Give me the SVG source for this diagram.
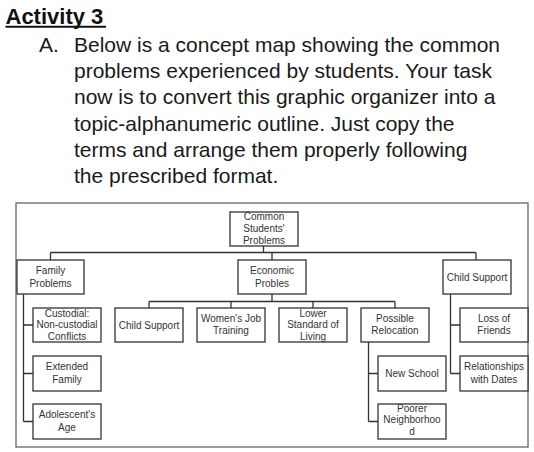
<svg xmlns="http://www.w3.org/2000/svg" width="534" height="452" viewBox="0 0 534 452">
<style>
.title{font-family:"Liberation Sans",Arial,sans-serif;font-size:22px;font-weight:bold;fill:#111}
.para{font-family:"Liberation Sans",Arial,sans-serif;font-size:21px;fill:#1a1a1a}
.box{fill:#fff;stroke:#333;stroke-width:1.3}
.lbl{font-family:"Liberation Sans",Arial,sans-serif;font-size:10px;fill:#333;text-anchor:middle}
.conn{fill:none;stroke:#333;stroke-width:1.3}
</style>
<rect width="534" height="452" fill="#fff"/>
<text class="title" x="5.5" y="24">Activity 3</text>
<line x1="5.5" y1="26.8" x2="106" y2="26.8" stroke="#111" stroke-width="2"/>
<g class="para">
<text x="39" y="52">A.</text>
<text x="74" y="52">Below is a concept map showing the common</text>
<text x="74" y="78.2">problems experienced by students. Your task</text>
<text x="74" y="104.4">now is to convert this graphic organizer into a</text>
<text x="74" y="130.6">topic-alphanumeric outline. Just copy the</text>
<text x="74" y="156.8">terms and arrange them properly following</text>
<text x="74" y="183">the prescribed format.</text>
</g>
<rect x="16" y="203" width="512" height="244" fill="none" stroke="#666" stroke-width="1.3"/>
<g id="connectors" class="conn">
<path d="M263.5 246V252.5M50.5 252.5H476M50.5 252.5V260M272 252.5V260M476 252.5V260"/>
<path d="M272 294V301.5M149 301.5H395M149 301.5V308M231 301.5V308M313 301.5V308M395 301.5V308"/>
<path d="M23.5 294V421.5M23.5 325H33M23.5 373.5H33M23.5 421.5H33"/>
<path d="M368.5 342V421.5M368.5 373.5H378M368.5 421.5H378"/>
<path d="M450.5 294V373.5M450.5 325H460M450.5 373.5H460"/>
</g>
<g id="root"><rect class="box" x="230" y="212" width="68" height="34"/>
<text class="lbl" x="264" y="220">Common</text><text class="lbl" x="264" y="232">Students'</text><text class="lbl" x="264" y="243.5">Problems</text></g>
<g id="family"><rect class="box" x="17" y="260" width="67" height="34"/>
<text class="lbl" x="50.5" y="274">Family</text><text class="lbl" x="50.5" y="286.5">Problems</text></g>
<g id="economic"><rect class="box" x="238" y="260" width="68" height="34"/>
<text class="lbl" x="272" y="274">Economic</text><text class="lbl" x="272" y="286.5">Probles</text></g>
<g id="childsupport-right"><rect class="box" x="443" y="260" width="68" height="34"/>
<text class="lbl" x="477" y="280.5">Child Support</text></g>
<g id="custodial"><rect class="box" x="33" y="308" width="68" height="34"/>
<text class="lbl" x="67" y="316.5">Custodial:</text><text class="lbl" x="67" y="328.3">Non-custodial</text><text class="lbl" x="67" y="340">Conflicts</text></g>
<g id="childsupport-mid"><rect class="box" x="115" y="308" width="68" height="34"/>
<text class="lbl" x="149" y="328.8">Child Support</text></g>
<g id="womens-job"><rect class="box" x="197" y="308" width="68" height="34"/>
<text class="lbl" x="231" y="322">Women's Job</text><text class="lbl" x="231" y="334">Training</text></g>
<g id="lower-standard"><rect class="box" x="279" y="308" width="68" height="34"/>
<text class="lbl" x="313" y="316.5">Lower</text><text class="lbl" x="313" y="328.3">Standard of</text><text class="lbl" x="313" y="340">Living</text></g>
<g id="relocation"><rect class="box" x="361" y="308" width="68" height="34"/>
<text class="lbl" x="395" y="322">Possible</text><text class="lbl" x="395" y="334">Relocation</text></g>
<g id="loss-friends"><rect class="box" x="460" y="308" width="68" height="34"/>
<text class="lbl" x="494" y="322">Loss of</text><text class="lbl" x="494" y="334">Friends</text></g>
<g id="extended"><rect class="box" x="33" y="356" width="68" height="35"/>
<text class="lbl" x="67" y="370">Extended</text><text class="lbl" x="67" y="382.7">Family</text></g>
<g id="new-school"><rect class="box" x="378" y="356" width="68" height="35"/>
<text class="lbl" x="412" y="377">New School</text></g>
<g id="relationships"><rect class="box" x="460" y="356" width="68" height="35"/>
<text class="lbl" x="494" y="370">Relationships</text><text class="lbl" x="494" y="382.7">with Dates</text></g>
<g id="adolescent"><rect class="box" x="33" y="404" width="68" height="35"/>
<text class="lbl" x="67" y="418.3">Adolescent's</text><text class="lbl" x="67" y="430.7">Age</text></g>
<g id="poorer"><rect class="box" x="378" y="404" width="68" height="35"/>
<text class="lbl" x="412" y="411.7">Poorer</text><text class="lbl" x="412" y="423.3">Neighborhoo</text><text class="lbl" x="412" y="435">d</text></g>
</svg>
